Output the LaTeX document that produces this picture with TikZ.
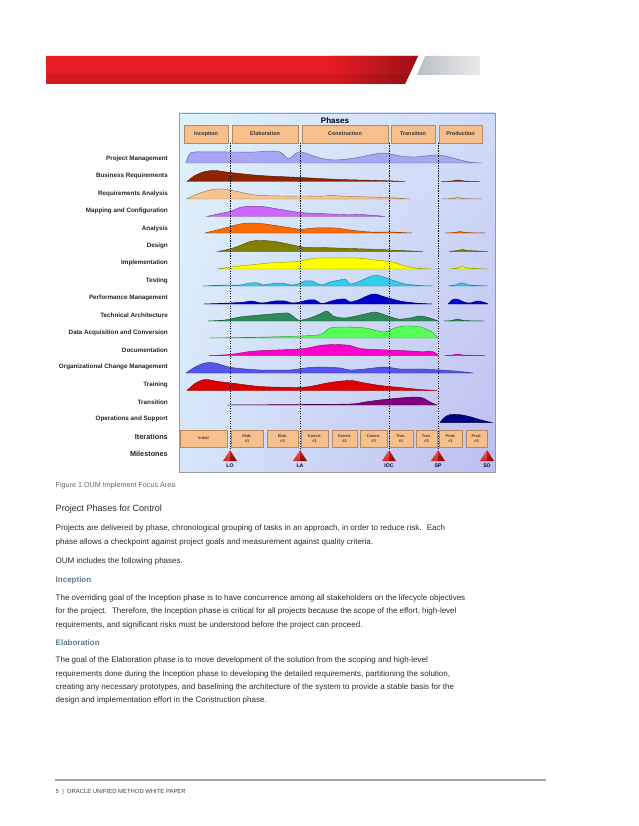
\documentclass[tikz,border=0pt]{standalone}
\usepackage{fontspec}
\setmainfont{Liberation Sans}
\usepackage{tikz}
\usetikzlibrary{shadings}

\definecolor{oraclered}{HTML}{E81C24}
\definecolor{oracledark}{HTML}{9C1016}
\definecolor{bannergray}{HTML}{B9BFC6}
\definecolor{phasefill}{HTML}{F6BF8C}
\definecolor{phaseedge}{HTML}{B9875C}
\definecolor{headblue}{HTML}{5E7C90}
\definecolor{bodygray}{HTML}{2B2B2B}
\definecolor{bgul}{HTML}{E0F2FC}
\definecolor{bgur}{HTML}{D0DCF8}
\definecolor{bgll}{HTML}{D6E6FA}
\definecolor{bglr}{HTML}{BEBEF0}
\definecolor{msleft}{HTML}{D82222}
\definecolor{msright}{HTML}{8A0808}
\definecolor{pmcol}{HTML}{A6A6F4}
\definecolor{brcol}{HTML}{8E2400}
\definecolor{racol}{HTML}{F9C391}
\definecolor{mccol}{HTML}{CC66FF}
\definecolor{ancol}{HTML}{FF6A00}
\definecolor{decol}{HTML}{7F7F00}
\definecolor{imcol}{HTML}{FFFF00}
\definecolor{tecol}{HTML}{33CCEE}
\definecolor{pecol}{HTML}{0000CC}
\definecolor{tacol}{HTML}{2E8B57}
\definecolor{dacol}{HTML}{55FF55}
\definecolor{docol}{HTML}{FF00CC}
\definecolor{occol}{HTML}{5555EE}
\definecolor{trcol}{HTML}{DD0000}
\definecolor{tncol}{HTML}{800080}
\definecolor{opcol}{HTML}{000080}

\tikzset{
    rowlab/.style={anchor=east, inner sep=0pt, text=black!85,
        font=\fontsize{6.3}{7}\selectfont\bfseries},
    biglab/.style={anchor=east, inner sep=0pt, text=black!85,
        font=\fontsize{7.3}{8}\selectfont\bfseries},
    phasebox/.style={draw=phaseedge, fill=phasefill, line width=0.5pt, text=black!80,
        minimum height=18pt, inner sep=0pt, font=\fontsize{5.4}{6}\selectfont\bfseries},
    iterbox/.style={draw=phaseedge, fill=phasefill, line width=0.5pt, text=black!75,
        minimum height=17pt, inner sep=0pt, align=center,
        font=\fontsize{3.9}{4.5}\selectfont\bfseries},
    wave/.style={line width=0.45pt},
    phaseline/.style={line width=1pt, dash pattern=on 1.3pt off 1.2pt},
    mslab/.style={inner sep=0pt, text=black!75!blue, font=\fontsize{5.2}{6}\selectfont\bfseries},
    bodytext/.style={anchor=base west, inner sep=0pt, text=bodygray,
        font=\fontsize{8}{9}\selectfont},
    subhead/.style={anchor=base west, inner sep=0pt, text=headblue,
        font=\fontsize{8}{9}\selectfont\bfseries}
}

% #1 baseline, #2 colour, #3 points (x,-height)
\newcommand{\wave}[3]{%
    \filldraw[wave, fill=#2, draw=#2!60!black, shift={(0,#1)}]
        plot[smooth, tension=0.5] coordinates {#3} -- cycle;}

\begin{document}
\begin{tikzpicture}[x=1pt, y=-1pt]
    \useasboundingbox[fill=white] (0,0) rectangle (638,826);

    % banner
    \fill[oraclered] (46,56) -- (418,56) -- (405,84) -- (46,84) -- cycle;
    \shade[left color=oraclered, right color=oracledark]
        (330,56) -- (418,56) -- (405,84) -- (330,84) -- cycle;
    \fill[black, opacity=0.08] (46,74) -- (409.8,74) -- (405,84) -- (46,84) -- cycle;
    \shade[left color=bannergray, right color=black!8]
        (425,56) -- (480,56) -- (480,75) -- (417,75) -- cycle;

    % diagram background
    \shade[upper left=bgul, upper right=bgur, lower left=bgll, lower right=bglr]
        (179,113) rectangle (495,472);
    \draw[black!40, line width=0.6pt] (179,113) rectangle (495,472);

    \node[inner sep=0pt, font=\fontsize{8}{9}\selectfont\bfseries] (phases) at (335,121) {Phases};
    \node[phasebox, minimum width=44pt] (inc) at (206,134) {Inception};
    \node[phasebox, minimum width=66pt] (ela) at (265,134) {Elaboration};
    \node[phasebox, minimum width=86pt] (con) at (345,134) {Construction};
    \node[phasebox, minimum width=44pt] (tra) at (413,134) {Transition};
    \node[phasebox, minimum width=43pt] (pro) at (460.5,134) {Production};

    % row labels
    \foreach \lab [count=\i] in {Project Management, Business Requirements,
        Requirements Analysis, Mapping and Configuration, Analysis, Design,
        Implementation, Testing, Performance Management, Technical Architecture,
        Data Acquisition and Conversion, Documentation,
        Organizational Change Management, Training, Transition,
        Operations and Support}
        \node[rowlab] (row\i) at (168,{141.65+17.35*\i}) {\lab};
    \node[biglab] (iter) at (168,437) {Iterations};
    \node[biglab] (mile) at (168,454) {Milestones};

    % activity waves
    \wave{163}{pmcol}{(186,0) (189,-8) (195,-11) (230,-11) (255,-11) (270,-12) (280,-11) (285,-7) (288,-4)
        (293,-7) (298,-11) (305,-10) (320,-5) (335,-3) (355,-5) (375,-9) (385,-10) (400,-7) (415,-6)
        (435,-8) (445,-7) (460,-3) (472,-0.5) (482,0)}
    \wave{181.5}{brcol}{(187,0) (195,-6) (205,-10) (215,-11) (230,-9) (260,-6) (300,-4) (340,-2) (380,-1) (405,0)}
    \wave{181.5}{brcol}{(441,0) (452,-0.5) (458,-1.5) (464,-0.5) (480,0)}
    \wave{199}{racol}{(187,0) (195,-4) (210,-9) (222,-10) (235,-8) (255,-4) (280,-3) (300,-3) (325,-3)
        (330,-4) (340,-3) (370,-2) (395,-1) (410,0)}
    \wave{199}{racol}{(441,0) (452,-0.5) (458,-1.5) (464,-0.5) (482,0)}
    \wave{216.5}{mccol}{(207,0) (220,-3) (230,-5) (240,-9) (245,-10) (262,-10) (275,-8) (300,-4) (320,-3)
        (340,-2) (360,-2) (375,-1) (385,0)}
    \wave{233}{ancol}{(205,0) (225,-5) (240,-9) (252,-10) (265,-9) (285,-6) (298,-4) (305,-4) (315,-5)
        (335,-5) (350,-3) (370,-1) (390,-1) (412,0)}
    \wave{233}{ancol}{(445,0) (455,-0.5) (460,-1.5) (466,-0.5) (485,0)}
    \wave{251.5}{decol}{(218,0) (235,-4) (250,-10) (260,-11) (275,-10) (295,-6) (305,-4) (320,-4) (350,-3)
        (380,-2) (400,-1) (412,-0.5) (423,0)}
    \wave{251.5}{decol}{(449,0) (458,-1) (463,-2) (468,-1) (488,0)}
    \wave{269}{imcol}{(217,0) (240,-3) (270,-6) (290,-7) (300,-8) (310,-10) (320,-11) (355,-11) (375,-9)
        (392,-7) (405,-3) (415,-1) (432,0)}
    \wave{269}{imcol}{(449,0) (458,-1) (462,-2.5) (468,-1) (488,0)}
    \wave{286}{tecol}{(203,0) (225,-1) (240,-1) (250,-3) (258,-3) (262,-1) (270,-2) (282,-3) (290,-1)
        (298,-2) (305,-5) (312,-5) (316,-3) (322,-1) (330,-4) (340,-6) (345,-7) (350,-2) (358,-4)
        (372,-10) (380,-10) (395,-5) (405,-2) (420,-0.5) (433,0)}
    \wave{286}{tecol}{(448,0) (455,-1) (462,-3) (469,-1) (488,0)}
    \wave{304}{pecol}{(204,0) (230,-1) (245,-2) (252,-3) (262,-1) (275,-3) (285,-3) (292,-1) (300,-2)
        (308,-4) (315,-4) (320,-1) (325,-1) (335,-4) (345,-5) (350,-2) (358,-4) (373,-10) (385,-7)
        (400,-3) (415,-1) (432,0)}
    \wave{304}{pecol}{(448,0) (452,-4) (457,-5) (464,-2) (470,-1) (478,-3) (486,-1) (488,0)}
    \wave{321}{tacol}{(208,0) (225,-1) (240,-4) (260,-6) (285,-8) (290,-7) (298,-1) (302,-1) (310,-3)
        (320,-7) (327,-10) (333,-5) (345,-3) (365,-7) (375,-9) (385,-6) (398,-2) (410,-3) (420,-5)
        (430,-3) (438,0)}
    \wave{321}{tacol}{(444,0) (452,-0.5) (458,-2) (464,-0.5) (484,0)}
    \wave{338}{dacol}{(209,0) (240,-0.5) (270,-1) (300,-2) (318,-3) (325,-6) (330,-10) (345,-11) (365,-10)
        (378,-7) (385,-6) (395,-10) (405,-12) (420,-11) (432,-6) (438,0)}
    \wave{355.5}{docol}{(209,0) (230,-1) (250,-4) (265,-5) (290,-6) (305,-7) (320,-10) (335,-11) (350,-10)
        (360,-7) (375,-6) (400,-5) (420,-4) (432,-4) (436,-2) (438,0)}
    \wave{355.5}{docol}{(445,0) (453,-0.5) (458,-1.5) (463,-0.5) (485,0)}
    \wave{373}{occol}{(186,0) (195,-6) (205,-10) (215,-10) (225,-7) (235,-5) (260,-3) (290,-3) (305,-5)
        (320,-6) (340,-5) (350,-3) (365,-4) (385,-6) (400,-4) (420,-4) (440,-3) (455,-2) (473,0)}
    \wave{390.5}{trcol}{(187,0) (195,-7) (205,-11) (218,-9) (235,-7) (260,-4) (295,-3) (310,-4) (330,-8)
        (350,-10) (362,-8) (380,-5) (400,-3) (420,-1) (437,0)}
    \wave{405}{tncol}{(227,0) (300,-0.5) (350,-1) (365,-3) (380,-5) (400,-7) (415,-8) (423,-7) (430,-3) (437,0)}
    \wave{422.7}{opcol}{(440,0) (444,-5) (450,-8) (460,-8) (470,-6) (480,-3) (492,0)}

    % iterations
    \node[iterbox, minimum width=47pt] (it0) at (203.5,438.6) {Initial};
    \node[iterbox, minimum width=32pt] (it1) at (247,438.6) {Elab.\\\#1};
    \node[iterbox, minimum width=31pt] (it2) at (282.5,438.6) {Elab.\\\#2};
    \node[iterbox, minimum width=27pt] (it3) at (314.5,438.6) {Constr.\\\#1};
    \node[iterbox, minimum width=25pt] (it4) at (344.5,438.6) {Constr.\\\#2};
    \node[iterbox, minimum width=27pt] (it5) at (373.5,438.6) {Constr.\\\#3};
    \node[iterbox, minimum width=24pt] (it6) at (401,438.6) {Tran.\\\#1};
    \node[iterbox, minimum width=21pt] (it7) at (426.5,438.6) {Tran.\\\#2};
    \node[iterbox, minimum width=23pt] (it8) at (450.5,438.6) {Prod.\\\#1};
    \node[iterbox, minimum width=21pt] (it9) at (476.5,438.6) {Prod.\\\#2};

    % phase boundaries and milestones
    \foreach \x in {230,300,389,438}
        \draw[phaseline] (\x,143) -- (\x,450);
    \foreach \x/\m in {230/LO, 300/LA, 389/IOC, 438/SP, 487/SO} {
        \shade[top color=msleft!70!white, bottom color=msleft]
            (\x,450) -- (\x,461) -- (\x-7,461) -- cycle;
        \shade[top color=msleft, bottom color=msright]
            (\x,450) -- (\x+7,461) -- (\x,461) -- cycle;
        \node[mslab] (ms\m) at (\x,466) {\m};
    }

    % page text
    \node[anchor=west, inner sep=0pt, text=black!60, font=\fontsize{7.2}{8}\selectfont] (caption)
        at (55.5,486) {Figure 1.OUM Implement Focus Area};
    \node[anchor=west, inner sep=0pt, text=bodygray, font=\fontsize{9.1}{11}\selectfont] (title)
        at (55.5,509) {Project Phases for Control};
    \foreach \y/\t [count=\i] in {
        530.4/{Projects are delivered by phase, chronological grouping of tasks in an approach, in order to reduce risk.~ Each},
        544.4/{phase allows a checkpoint against project goals and measurement against quality criteria.},
        563.7/{OUM includes the following phases.},
        600/{The overriding goal of the Inception phase is to have concurrence among all stakeholders on the lifecycle objectives},
        613.3/{for the project.~ Therefore, the Inception phase is critical for all projects because the scope of the effort, high-level},
        627/{requirements, and significant risks must be understood before the project can proceed.},
        662.7/{The goal of the Elaboration phase is to move development of the solution from the scoping and high-level},
        676/{requirements done during the Inception phase to developing the detailed requirements, partitioning the solution,},
        689.4/{creating any necessary prototypes, and baselining the architecture of the system to provide a stable basis for the},
        702.7/{design and implementation effort in the Construction phase.}}
        \node[bodytext] (line\i) at (55.5,\y) {\t};
    \node[subhead] (hinc) at (55.5,582.7) {Inception};
    \node[subhead] (hela) at (55.5,645.4) {Elaboration};

    % footer
    \draw[black!35, line width=1.3pt] (55,780) -- (546,780);
    \node[anchor=west, inner sep=0pt, text=black!75, font=\fontsize{5.9}{7}\selectfont] (footer)
        at (55.5,792.3) {5~ |~ ORACLE UNIFIED METHOD WHITE PAPER};
\end{tikzpicture}
\end{document}
